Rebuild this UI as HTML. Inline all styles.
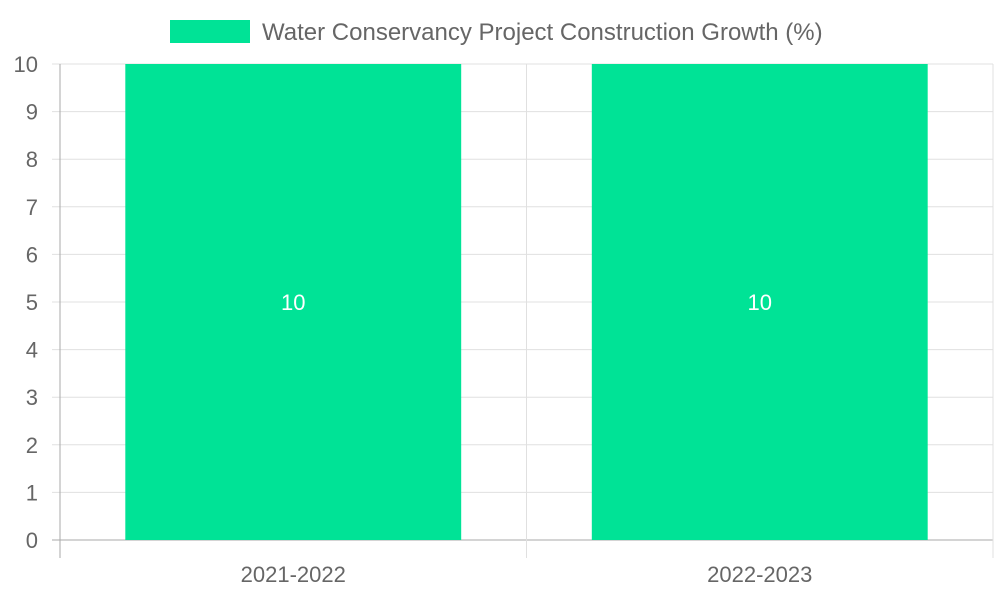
<!DOCTYPE html>
<html><head><meta charset="utf-8"><style>
body{margin:0;background:#fff;}
svg text{font-family:"Liberation Sans",sans-serif;}
</style></head><body>
<svg id="chart" width="1000" height="600" xmlns="http://www.w3.org/2000/svg">
<g id="legend">
<rect x="170" y="20" width="80" height="23" fill="#00E396"/>
<text x="262" y="40" font-size="24" fill="#666">Water Conservancy Project Construction Growth (%)</text>
</g>
<g id="grid"></g><g id="bars"></g><g id="axes"></g>
</svg>
<script>
const categories=["2021-2022","2022-2023"];
const values=[10,10];
const yTicks=[0,1,2,3,4,5,6,7,8,9,10];
const NS="http://www.w3.org/2000/svg";
const L=60,R=993,T=64,B=540,yMax=10;
const y=v=>B-(v/yMax)*(B-T);
const cw=(R-L)/categories.length;
const x=i=>L+cw*i;
function mk(tag,attrs,parent,txt){const e=document.createElementNS(NS,tag);for(const k in attrs)e.setAttribute(k,attrs[k]);if(txt!==undefined)e.textContent=txt;parent.appendChild(e);return e;}
const grid=document.getElementById('grid'),bars=document.getElementById('bars'),axes=document.getElementById('axes');
yTicks.forEach(t=>{
 const g=mk('line',{x1:L-8,x2:R,y1:y(t),y2:y(t),stroke:t===0?'#aaa':'#e0e0e0','stroke-width':1},grid);
 
 
 const lb=mk('text',{x:L-22,y:y(t)+8,'font-size':22,fill:'#666','text-anchor':'end'},axes,String(t));
 
 
});
for(let i=0;i<=categories.length;i++){
 const v=mk('line',{x1:x(i),x2:x(i),y1:T,y2:B+18,stroke:i===0?'#aaa':'#e0e0e0','stroke-width':1},grid);
 
 
}
categories.forEach((c,i)=>{
 const bw=cw*0.72,bx=x(i)+(cw-bw)/2;
 const r=mk('rect',{x:bx,y:y(values[i]),width:bw,height:B-y(values[i]),fill:'#00E396'},bars);
 
 
 const vl=mk('text',{x:bx+bw/2,y:(y(values[i])+B)/2+8,'font-size':22,fill:'#fff','text-anchor':'middle'},bars,String(values[i]));
 
 
 const xl=mk('text',{x:x(i)+cw/2,y:582,'font-size':22,fill:'#666','text-anchor':'middle'},axes,c);
 
 
});
</script>
</body></html>
